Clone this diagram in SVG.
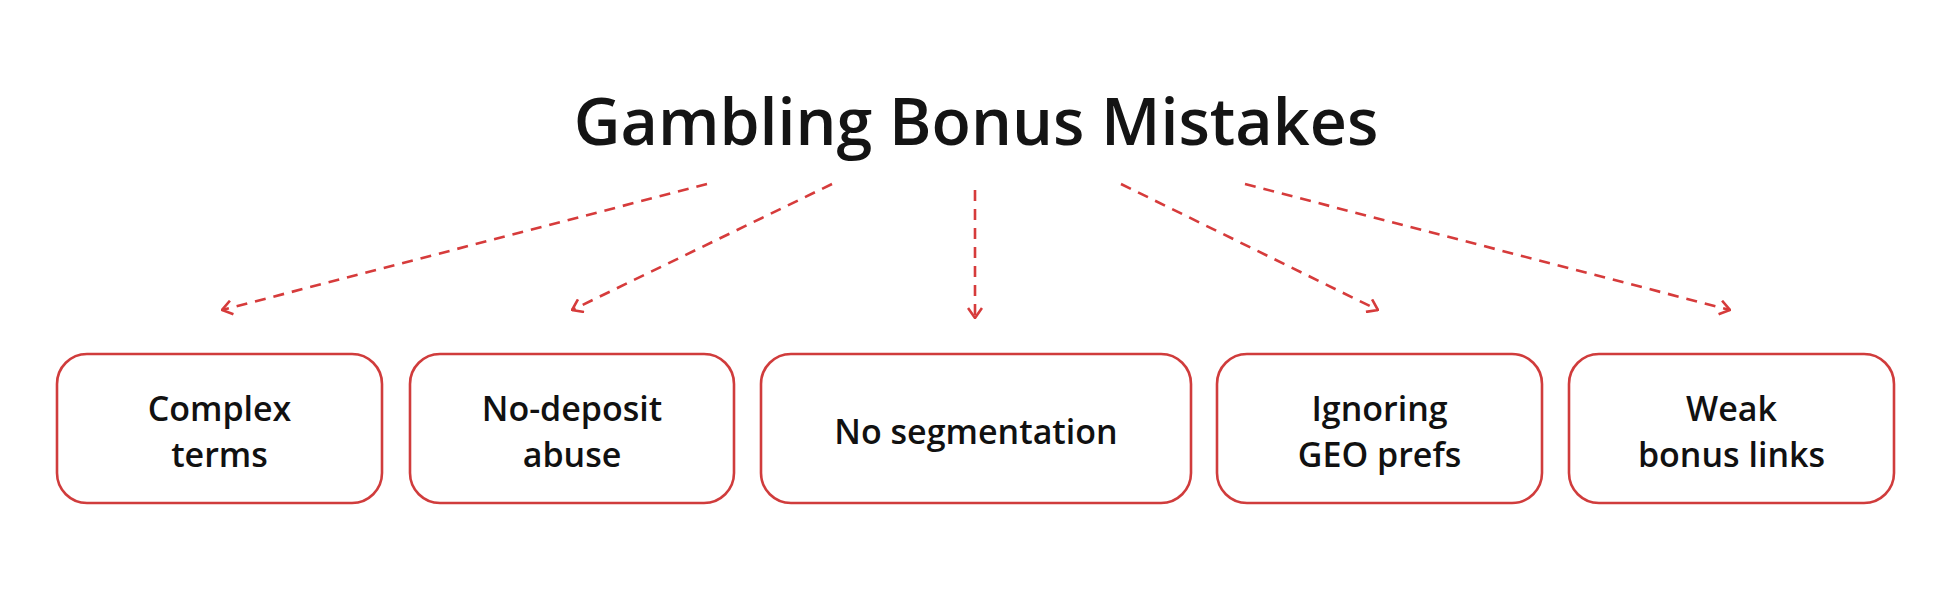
<svg xmlns="http://www.w3.org/2000/svg" width="1952" height="591" viewBox="0 0 1952 591">
<style>
.bg{fill:#ffffff}
.title{font-family:"Open Sans","Noto Sans",sans-serif;font-weight:600;font-size:64.5px;fill:#141414;text-anchor:middle}
.box{fill:#ffffff;stroke:#d03c3c;stroke-width:2.6}
.lbl{font-family:"Open Sans","Noto Sans",sans-serif;font-weight:600;font-size:34px;fill:#111111;text-anchor:middle}
.con{fill:none;stroke:#d63b3b;stroke-width:2.6;stroke-dasharray:11 8}
</style>
<defs>
<marker id="ah" viewBox="0 0 12 16" refX="11" refY="8" markerWidth="12" markerHeight="16" markerUnits="userSpaceOnUse" orient="auto">
<path d="M1 1 L11 8 L1 15" fill="none" stroke="#d63b3b" stroke-width="2.6"/>
</marker>
</defs>
<rect class="bg" width="1952" height="591"/>
<g id="title"><text class="title" x="976" y="145">Gambling Bonus Mistakes</text></g>
<g id="connectors">
<path class="con" d="M707 184 L222 310" marker-end="url(#ah)"/>
<path class="con" d="M832 184 L572 310" marker-end="url(#ah)"/>
<path class="con" d="M975 190 L975 318" marker-end="url(#ah)"/>
<path class="con" d="M1121 184 L1378 310" marker-end="url(#ah)"/>
<path class="con" d="M1245 184 L1730 310" marker-end="url(#ah)"/>
</g>
<g id="n1"><rect class="box" x="57" y="354" width="325" height="149" rx="30"/><text class="lbl" x="219.5" y="421">Complex</text><text class="lbl" x="219.5" y="467">terms</text></g>
<g id="n2"><rect class="box" x="410" y="354" width="324" height="149" rx="30"/><text class="lbl" x="572" y="421">No-deposit</text><text class="lbl" x="572" y="467">abuse</text></g>
<g id="n3"><rect class="box" x="761" y="354" width="430" height="149" rx="30"/><text class="lbl" x="976" y="444">No segmentation</text></g>
<g id="n4"><rect class="box" x="1217" y="354" width="325" height="149" rx="30"/><text class="lbl" x="1379.5" y="421">Ignoring</text><text class="lbl" x="1379.5" y="467">GEO prefs</text></g>
<g id="n5"><rect class="box" x="1569" y="354" width="325" height="149" rx="30"/><text class="lbl" x="1731.5" y="421">Weak</text><text class="lbl" x="1731.5" y="467">bonus links</text></g>
</svg>
